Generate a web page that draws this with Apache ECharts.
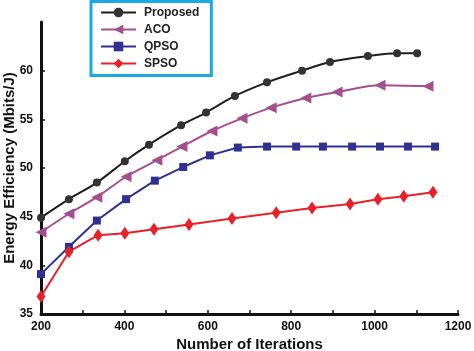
<!DOCTYPE html>
<html>
<head>
<meta charset="utf-8">
<script src="https://cdn.jsdelivr.net/npm/echarts@6/dist/echarts.min.js"></script>
<style>
  html, body { margin: 0; padding: 0; background: #fff; }
  #chart { width: 474px; height: 351px; }
</style>
</head>
<body>
<div id="chart"></div>
<script>
  var seriesNames = ['Proposed', 'ACO', 'QPSO', 'SPSO'];

  var proposedX = [200, 267, 334, 401, 459, 536, 596, 665, 742, 826, 893, 984, 1054, 1102];
  var proposedY = [44.9, 46.8, 48.5, 50.7, 52.4, 54.4, 55.7, 57.4, 58.8, 60.0, 60.9, 61.5, 61.8, 61.8];

  var acoX = [200, 267, 334, 404, 478, 538, 610, 682, 752, 835, 910, 1013, 1128];
  var acoY = [43.4, 45.3, 47.0, 49.1, 50.8, 52.2, 53.8, 55.1, 56.2, 57.2, 57.8, 58.5, 58.4];

  var qpsoX = [200, 267, 334, 404, 473, 541, 605, 672, 742, 812, 876, 946, 1013, 1080, 1145];
  var qpsoY = [39.1, 41.9, 44.6, 46.8, 48.7, 50.1, 51.3, 52.1, 52.2, 52.2, 52.2, 52.2, 52.2, 52.2, 52.2];

  var spsoX = [200, 267, 337, 401, 471, 555, 658, 764, 850, 941, 1008, 1070, 1140];
  var spsoY = [36.8, 41.4, 43.1, 43.3, 43.7, 44.2, 44.8, 45.4, 45.9, 46.3, 46.8, 47.1, 47.5];

  function pairs(xs, ys) {
    return xs.map(function (x, i) { return [x, ys[i]]; });
  }

  var font = 'Arial, "Liberation Sans", Helvetica, sans-serif';
  var chart = echarts.init(document.getElementById('chart'), null, { renderer: 'canvas' });

  var option = {
    animation: false,
    backgroundColor: '#fff',
    textStyle: { fontFamily: font },
    grid: { left: 41, right: 16, top: 22, bottom: 37, containLabel: false, outerBoundsMode: 'none' },
    legend: {
      orient: 'vertical',
      left: 91,
      top: 1.5,
      padding: [5, 12, 6, 9],
      itemWidth: 35,
      itemHeight: 12,
      itemGap: 5,
      borderColor: '#1ba9e4',
      borderWidth: 3,
      borderRadius: 0,
      backgroundColor: '#fff',
      textStyle: { fontFamily: font, fontSize: 12, fontWeight: 'bold', color: '#222', lineHeight: 12, padding: [0, 0, 0, 3] },
      data: seriesNames
    },
    xAxis: {
      type: 'value',
      min: 200,
      max: 1200,
      interval: 100,
      name: 'Number of Iterations',
      nameLocation: 'middle',
      nameGap: 23,
      nameMoveOverlap: false,
      nameTextStyle: { fontFamily: font, fontSize: 15, fontWeight: 'bold', color: '#111' },
      axisLine: { lineStyle: { color: '#111', width: 3 } },
      axisTick: { inside: true, length: 4, lineStyle: { color: '#111', width: 1.5 } },
      axisLabel: {
        margin: 7,
        fontFamily: font, fontSize: 12, fontWeight: 'bold', color: '#111',
        formatter: function (v) { return v % 200 === 0 ? String(v) : ''; }
      },
      splitLine: { show: false }
    },
    yAxis: {
      type: 'value',
      min: 35,
      max: 65,
      interval: 5,
      name: 'Energy Efficiency (Mbits/J)',
      nameLocation: 'middle',
      nameGap: 24,
      nameMoveOverlap: false,
      nameTextStyle: { fontFamily: font, fontSize: 15, fontWeight: 'bold', color: '#111' },
      axisLine: { show: true, lineStyle: { color: '#111', width: 3 } },
      axisTick: { show: true, inside: true, length: 4, lineStyle: { color: '#111', width: 1.5 } },
      axisLabel: { margin: 8, showMaxLabel: false, fontFamily: font, fontSize: 12, fontWeight: 'bold', color: '#111' },
      splitLine: { show: false }
    },
    series: [
      {
        name: 'Proposed', type: 'line', data: pairs(proposedX, proposedY),
        smooth: 0.3, symbol: 'circle', symbolSize: 8,
        lineStyle: { color: '#1e1e1e', width: 2 },
        itemStyle: { color: '#333333' }
      },
      {
        name: 'ACO', type: 'line', data: pairs(acoX, acoY),
        smooth: 0.3, symbol: 'triangle', symbolRotate: 90, symbolSize: 11,
        lineStyle: { color: '#a44f8e', width: 2 },
        itemStyle: { color: '#a44f8e' }
      },
      {
        name: 'QPSO', type: 'line', data: pairs(qpsoX, qpsoY),
        symbol: 'rect', symbolSize: 8,
        lineStyle: { color: '#2e3192', width: 2 },
        itemStyle: { color: '#2e3192' }
      },
      {
        name: 'SPSO', type: 'line', data: pairs(spsoX, spsoY),
        symbol: 'diamond', symbolSize: [9, 13],
        lineStyle: { color: '#e8202a', width: 2 },
        itemStyle: { color: '#e8202a' }
      }
    ]
  };

  chart.setOption(option);
</script>
</body>
</html>
